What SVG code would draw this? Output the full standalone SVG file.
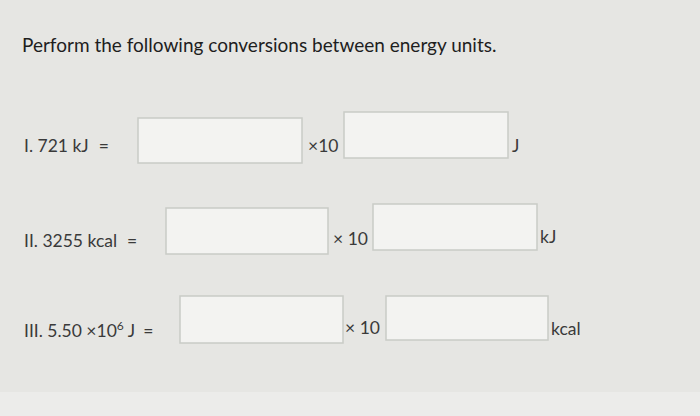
<svg xmlns="http://www.w3.org/2000/svg" width="700" height="416" viewBox="0 0 700 416">
<style>
text{font-family:Lato,"Liberation Sans",sans-serif;fill:#3a3a3a;font-size:17.5px}
.b{fill:#f3f3f1;stroke:#c9cbc6;stroke-width:1.5}
</style>
<rect width="700" height="416" fill="#e6e6e3"/>
<rect x="0" y="392" width="700" height="24" fill="#ececea"/>
<text x="22" y="52" style="font-size:19px;fill:#1e1e1e">Perform the following conversions between energy units.</text>
<g id="row1">
<text x="24" y="152">I. 721 kJ<tspan dx="10">=</tspan></text>
<rect class="b" x="138" y="118" width="164" height="45"/>
<text x="308" y="152">×10</text>
<rect class="b" x="344" y="112" width="164" height="46"/>
<text x="512" y="152">J</text>
</g>
<g id="row2">
<text x="24" y="247">II. 3255 kcal<tspan dx="10">=</tspan></text>
<rect class="b" x="166" y="208" width="162" height="46"/>
<text x="333" y="245">× 10</text>
<rect class="b" x="373" y="204" width="164" height="46"/>
<text x="540" y="243">kJ</text>
</g>
<g id="row3">
<text x="24" y="337">III. 5.50 ×10<tspan dy="-7" style="font-size:12px">6</tspan><tspan dy="7"> J<tspan dx="8">=</tspan></tspan></text>
<rect class="b" x="180" y="296" width="163" height="47"/>
<text x="345" y="334">× 10</text>
<rect class="b" x="386" y="296" width="162" height="44"/>
<text x="551" y="335">kcal</text>
</g>
</svg>
